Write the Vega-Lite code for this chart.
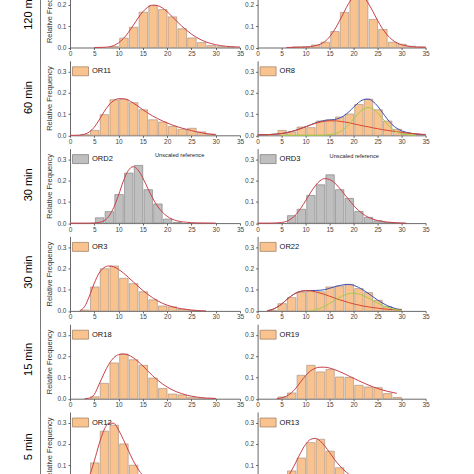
{
"$schema":"https://vega.github.io/schema/vega-lite/v6.json",
"padding":{"left":18,"top":-27,"right":0,"bottom":-20},
"config":{"font":"Liberation Sans","view":{"stroke":null},
"axis":{"domainColor":"#444","domainWidth":0.8,"tickColor":"#444","tickWidth":0.8,"tickSize":2,"labelFontSize":6.5,"labelColor":"#444","labelPadding":1,"labelOverlap":false,"labelFlush":false,"grid":false,"titleFontSize":7.5,"titleFontWeight":"normal","titleColor":"#333","titlePadding":3},
"axisY":{"labelPadding":2},
"legend":{"orient":"top-left","offset":2,"padding":0,"symbolType":"M-1,-0.56H1V0.56H-1Z","symbolSize":256,"labelFontSize":7.5,"labelColor":"#111","labelOffset":3,"symbolStrokeWidth":0.7,"symbolStrokeColor":"#9c7a5a"},
"bar":{"binSpacing":1.2}},
"datasets":{
"bars":[
{"p":"A120","lo":8,"hi":10,"f":0.005},{"p":"A120","lo":10,"hi":12,"f":0.044},{"p":"A120","lo":12,"hi":14,"f":0.095},{"p":"A120","lo":14,"hi":16,"f":0.166},{"p":"A120","lo":16,"hi":18,"f":0.197},{"p":"A120","lo":18,"hi":20,"f":0.178},{"p":"A120","lo":20,"hi":22,"f":0.144},{"p":"A120","lo":22,"hi":24,"f":0.088},{"p":"A120","lo":24,"hi":26,"f":0.045},{"p":"A120","lo":26,"hi":28,"f":0.023},{"p":"A120","lo":28,"hi":30,"f":0.009},{"p":"A120","lo":30,"hi":32,"f":0.004},{"p":"A120","lo":32,"hi":34,"f":0.002},
{"p":"B120","lo":7,"hi":9,"f":0.003},{"p":"B120","lo":9,"hi":11,"f":0.004},{"p":"B120","lo":11,"hi":13,"f":0.012},{"p":"B120","lo":13,"hi":15,"f":0.025},{"p":"B120","lo":15,"hi":17,"f":0.075},{"p":"B120","lo":17,"hi":19,"f":0.165},{"p":"B120","lo":19,"hi":21,"f":0.245},{"p":"B120","lo":21,"hi":23,"f":0.24},{"p":"B120","lo":23,"hi":25,"f":0.132},{"p":"B120","lo":25,"hi":27,"f":0.085},{"p":"B120","lo":27,"hi":29,"f":0.025},{"p":"B120","lo":29,"hi":31,"f":0.015},{"p":"B120","lo":31,"hi":33,"f":0.006},{"p":"B120","lo":33,"hi":35,"f":0.003},
{"p":"OR11","lo":2,"hi":4,"f":0.003},{"p":"OR11","lo":4,"hi":6,"f":0.023},{"p":"OR11","lo":6,"hi":8,"f":0.097},{"p":"OR11","lo":8,"hi":10,"f":0.167},{"p":"OR11","lo":10,"hi":12,"f":0.169},{"p":"OR11","lo":12,"hi":14,"f":0.153},{"p":"OR11","lo":14,"hi":16,"f":0.12},{"p":"OR11","lo":16,"hi":18,"f":0.073},{"p":"OR11","lo":18,"hi":20,"f":0.0625},{"p":"OR11","lo":20,"hi":22,"f":0.042},{"p":"OR11","lo":22,"hi":24,"f":0.028},{"p":"OR11","lo":24,"hi":26,"f":0.033},{"p":"OR11","lo":26,"hi":28,"f":0.016},{"p":"OR11","lo":28,"hi":30,"f":0.006},
{"p":"OR8","lo":0,"hi":2,"f":0.002},{"p":"OR8","lo":2,"hi":4,"f":0.003},{"p":"OR8","lo":4,"hi":6,"f":0.023},{"p":"OR8","lo":6,"hi":8,"f":0.016},{"p":"OR8","lo":8,"hi":10,"f":0.039},{"p":"OR8","lo":10,"hi":12,"f":0.036},{"p":"OR8","lo":12,"hi":14,"f":0.067},{"p":"OR8","lo":14,"hi":16,"f":0.073},{"p":"OR8","lo":16,"hi":18,"f":0.086},{"p":"OR8","lo":18,"hi":20,"f":0.1},{"p":"OR8","lo":20,"hi":22,"f":0.145},{"p":"OR8","lo":22,"hi":24,"f":0.17},{"p":"OR8","lo":24,"hi":26,"f":0.12},{"p":"OR8","lo":26,"hi":28,"f":0.067},{"p":"OR8","lo":28,"hi":30,"f":0.028},{"p":"OR8","lo":30,"hi":32,"f":0.011},{"p":"OR8","lo":32,"hi":34,"f":0.005},
{"p":"ORD2","lo":5,"hi":7,"f":0.025},{"p":"ORD2","lo":7,"hi":9,"f":0.054},{"p":"ORD2","lo":9,"hi":11,"f":0.134},{"p":"ORD2","lo":11,"hi":13,"f":0.235},{"p":"ORD2","lo":13,"hi":15,"f":0.271},{"p":"ORD2","lo":15,"hi":17,"f":0.157},{"p":"ORD2","lo":17,"hi":19,"f":0.09},{"p":"ORD2","lo":19,"hi":21,"f":0.019},{"p":"ORD2","lo":21,"hi":23,"f":0.003},
{"p":"ORD3","lo":6,"hi":8,"f":0.035},{"p":"ORD3","lo":8,"hi":10,"f":0.065},{"p":"ORD3","lo":10,"hi":12,"f":0.13},{"p":"ORD3","lo":12,"hi":14,"f":0.18},{"p":"ORD3","lo":14,"hi":16,"f":0.227},{"p":"ORD3","lo":16,"hi":18,"f":0.157},{"p":"ORD3","lo":18,"hi":20,"f":0.116},{"p":"ORD3","lo":20,"hi":22,"f":0.055},{"p":"ORD3","lo":22,"hi":24,"f":0.027},{"p":"ORD3","lo":24,"hi":26,"f":0.011},{"p":"ORD3","lo":26,"hi":28,"f":0.003},
{"p":"OR3","lo":2,"hi":4,"f":0.004},{"p":"OR3","lo":4,"hi":6,"f":0.1125},{"p":"OR3","lo":6,"hi":8,"f":0.198},{"p":"OR3","lo":8,"hi":10,"f":0.211},{"p":"OR3","lo":10,"hi":12,"f":0.153},{"p":"OR3","lo":12,"hi":14,"f":0.128},{"p":"OR3","lo":14,"hi":16,"f":0.09},{"p":"OR3","lo":16,"hi":18,"f":0.052},{"p":"OR3","lo":18,"hi":20,"f":0.023},{"p":"OR3","lo":20,"hi":22,"f":0.019},{"p":"OR3","lo":22,"hi":24,"f":0.008},{"p":"OR3","lo":24,"hi":26,"f":0.003},
{"p":"OR22","lo":2,"hi":4,"f":0.003},{"p":"OR22","lo":4,"hi":6,"f":0.034},{"p":"OR22","lo":6,"hi":8,"f":0.0625},{"p":"OR22","lo":8,"hi":10,"f":0.089},{"p":"OR22","lo":10,"hi":12,"f":0.094},{"p":"OR22","lo":12,"hi":14,"f":0.09},{"p":"OR22","lo":14,"hi":16,"f":0.1125},{"p":"OR22","lo":16,"hi":18,"f":0.117},{"p":"OR22","lo":18,"hi":20,"f":0.125},{"p":"OR22","lo":20,"hi":22,"f":0.105},{"p":"OR22","lo":22,"hi":24,"f":0.086},{"p":"OR22","lo":24,"hi":26,"f":0.05},{"p":"OR22","lo":26,"hi":28,"f":0.02},{"p":"OR22","lo":28,"hi":30,"f":0.008},
{"p":"OR18","lo":4,"hi":6,"f":0.009},{"p":"OR18","lo":6,"hi":8,"f":0.072},{"p":"OR18","lo":8,"hi":10,"f":0.168},{"p":"OR18","lo":10,"hi":12,"f":0.21},{"p":"OR18","lo":12,"hi":14,"f":0.183},{"p":"OR18","lo":14,"hi":16,"f":0.157},{"p":"OR18","lo":16,"hi":18,"f":0.097},{"p":"OR18","lo":18,"hi":20,"f":0.048},{"p":"OR18","lo":20,"hi":22,"f":0.022},{"p":"OR18","lo":22,"hi":24,"f":0.018},{"p":"OR18","lo":24,"hi":26,"f":0.007},{"p":"OR18","lo":26,"hi":28,"f":0.003},{"p":"OR18","lo":28,"hi":30,"f":0.002},
{"p":"OR19","lo":4,"hi":6,"f":0.008},{"p":"OR19","lo":6,"hi":8,"f":0.027},{"p":"OR19","lo":8,"hi":10,"f":0.11},{"p":"OR19","lo":10,"hi":12,"f":0.157},{"p":"OR19","lo":12,"hi":14,"f":0.126},{"p":"OR19","lo":14,"hi":16,"f":0.137},{"p":"OR19","lo":16,"hi":18,"f":0.102},{"p":"OR19","lo":18,"hi":20,"f":0.1},{"p":"OR19","lo":20,"hi":22,"f":0.063},{"p":"OR19","lo":22,"hi":24,"f":0.055},{"p":"OR19","lo":24,"hi":26,"f":0.052},{"p":"OR19","lo":26,"hi":28,"f":0.024},{"p":"OR19","lo":28,"hi":30,"f":0.006},
{"p":"OR12","lo":2,"hi":4,"f":0.01},{"p":"OR12","lo":4,"hi":6,"f":0.111},{"p":"OR12","lo":6,"hi":8,"f":0.26},{"p":"OR12","lo":8,"hi":10,"f":0.288},{"p":"OR12","lo":10,"hi":12,"f":0.2},{"p":"OR12","lo":12,"hi":14,"f":0.1},{"p":"OR12","lo":14,"hi":16,"f":0.035},{"p":"OR12","lo":16,"hi":18,"f":0.01},{"p":"OR12","lo":18,"hi":20,"f":0.003},
{"p":"OR13","lo":4,"hi":6,"f":0.02},{"p":"OR13","lo":6,"hi":8,"f":0.073},{"p":"OR13","lo":8,"hi":10,"f":0.134},{"p":"OR13","lo":10,"hi":12,"f":0.206},{"p":"OR13","lo":12,"hi":14,"f":0.222},{"p":"OR13","lo":14,"hi":16,"f":0.166},{"p":"OR13","lo":16,"hi":18,"f":0.088},{"p":"OR13","lo":18,"hi":20,"f":0.045},{"p":"OR13","lo":20,"hi":22,"f":0.018},{"p":"OR13","lo":22,"hi":24,"f":0.006}
],
"fits":[
{"p":"A120","c":"fit","x":5,"y":0},{"p":"A120","c":"fit","x":7,"y":0.001},{"p":"A120","c":"fit","x":8,"y":0.003},{"p":"A120","c":"fit","x":9,"y":0.009},{"p":"A120","c":"fit","x":10,"y":0.022},{"p":"A120","c":"fit","x":11,"y":0.042},{"p":"A120","c":"fit","x":12,"y":0.07},{"p":"A120","c":"fit","x":13,"y":0.103},{"p":"A120","c":"fit","x":14,"y":0.138},{"p":"A120","c":"fit","x":15,"y":0.168},{"p":"A120","c":"fit","x":16,"y":0.189},{"p":"A120","c":"fit","x":17,"y":0.199},{"p":"A120","c":"fit","x":18,"y":0.197},{"p":"A120","c":"fit","x":19,"y":0.186},{"p":"A120","c":"fit","x":20,"y":0.168},{"p":"A120","c":"fit","x":21,"y":0.146},{"p":"A120","c":"fit","x":22,"y":0.123},{"p":"A120","c":"fit","x":23,"y":0.101},{"p":"A120","c":"fit","x":24,"y":0.081},{"p":"A120","c":"fit","x":25,"y":0.063},{"p":"A120","c":"fit","x":26,"y":0.048},{"p":"A120","c":"fit","x":27,"y":0.036},{"p":"A120","c":"fit","x":28,"y":0.026},{"p":"A120","c":"fit","x":29,"y":0.019},{"p":"A120","c":"fit","x":30,"y":0.013},{"p":"A120","c":"fit","x":31,"y":0.009},{"p":"A120","c":"fit","x":32,"y":0.006},{"p":"A120","c":"fit","x":33,"y":0.004},{"p":"A120","c":"fit","x":34,"y":0.003},{"p":"A120","c":"fit","x":35,"y":0.002},
{"p":"B120","c":"fit","x":6,"y":0},{"p":"B120","c":"fit","x":8,"y":0.001},{"p":"B120","c":"fit","x":10,"y":0.002},{"p":"B120","c":"fit","x":11,"y":0.004},{"p":"B120","c":"fit","x":12,"y":0.008},{"p":"B120","c":"fit","x":13,"y":0.015},{"p":"B120","c":"fit","x":14,"y":0.028},{"p":"B120","c":"fit","x":15,"y":0.05},{"p":"B120","c":"fit","x":16,"y":0.082},{"p":"B120","c":"fit","x":17,"y":0.122},{"p":"B120","c":"fit","x":18,"y":0.166},{"p":"B120","c":"fit","x":19,"y":0.208},{"p":"B120","c":"fit","x":20,"y":0.238},{"p":"B120","c":"fit","x":21,"y":0.25},{"p":"B120","c":"fit","x":22,"y":0.24},{"p":"B120","c":"fit","x":23,"y":0.21},{"p":"B120","c":"fit","x":24,"y":0.17},{"p":"B120","c":"fit","x":25,"y":0.127},{"p":"B120","c":"fit","x":26,"y":0.089},{"p":"B120","c":"fit","x":27,"y":0.059},{"p":"B120","c":"fit","x":28,"y":0.037},{"p":"B120","c":"fit","x":29,"y":0.022},{"p":"B120","c":"fit","x":30,"y":0.013},{"p":"B120","c":"fit","x":31,"y":0.008},{"p":"B120","c":"fit","x":32,"y":0.004},{"p":"B120","c":"fit","x":33,"y":0.002},{"p":"B120","c":"fit","x":35,"y":0.001},
{"p":"OR11","c":"fit","x":0,"y":0},{"p":"OR11","c":"fit","x":1,"y":0},{"p":"OR11","c":"fit","x":2,"y":0.001},{"p":"OR11","c":"fit","x":3,"y":0.005},{"p":"OR11","c":"fit","x":4,"y":0.016},{"p":"OR11","c":"fit","x":5,"y":0.038},{"p":"OR11","c":"fit","x":6,"y":0.072},{"p":"OR11","c":"fit","x":7,"y":0.11},{"p":"OR11","c":"fit","x":8,"y":0.142},{"p":"OR11","c":"fit","x":9,"y":0.163},{"p":"OR11","c":"fit","x":10,"y":0.172},{"p":"OR11","c":"fit","x":11,"y":0.172},{"p":"OR11","c":"fit","x":12,"y":0.165},{"p":"OR11","c":"fit","x":13,"y":0.152},{"p":"OR11","c":"fit","x":14,"y":0.137},{"p":"OR11","c":"fit","x":15,"y":0.12},{"p":"OR11","c":"fit","x":16,"y":0.105},{"p":"OR11","c":"fit","x":17,"y":0.091},{"p":"OR11","c":"fit","x":18,"y":0.079},{"p":"OR11","c":"fit","x":19,"y":0.068},{"p":"OR11","c":"fit","x":20,"y":0.058},{"p":"OR11","c":"fit","x":21,"y":0.049},{"p":"OR11","c":"fit","x":22,"y":0.041},{"p":"OR11","c":"fit","x":23,"y":0.034},{"p":"OR11","c":"fit","x":24,"y":0.028},{"p":"OR11","c":"fit","x":25,"y":0.022},{"p":"OR11","c":"fit","x":26,"y":0.017},{"p":"OR11","c":"fit","x":27,"y":0.012},{"p":"OR11","c":"fit","x":28,"y":0.008},{"p":"OR11","c":"fit","x":29,"y":0.005},{"p":"OR11","c":"fit","x":30,"y":0.002},
{"p":"OR8","c":"sum","x":0,"y":0.002},{"p":"OR8","c":"sum","x":2,"y":0.003},{"p":"OR8","c":"sum","x":4,"y":0.006},{"p":"OR8","c":"sum","x":6,"y":0.012},{"p":"OR8","c":"sum","x":8,"y":0.024},{"p":"OR8","c":"sum","x":10,"y":0.04},{"p":"OR8","c":"sum","x":11,"y":0.049},{"p":"OR8","c":"sum","x":12,"y":0.058},{"p":"OR8","c":"sum","x":13,"y":0.065},{"p":"OR8","c":"sum","x":14,"y":0.07},{"p":"OR8","c":"sum","x":15,"y":0.072},{"p":"OR8","c":"sum","x":16,"y":0.074},{"p":"OR8","c":"sum","x":17,"y":0.08},{"p":"OR8","c":"sum","x":18,"y":0.092},{"p":"OR8","c":"sum","x":19,"y":0.11},{"p":"OR8","c":"sum","x":20,"y":0.132},{"p":"OR8","c":"sum","x":21,"y":0.153},{"p":"OR8","c":"sum","x":22,"y":0.167},{"p":"OR8","c":"sum","x":23,"y":0.17},{"p":"OR8","c":"sum","x":24,"y":0.16},{"p":"OR8","c":"sum","x":25,"y":0.137},{"p":"OR8","c":"sum","x":26,"y":0.107},{"p":"OR8","c":"sum","x":27,"y":0.077},{"p":"OR8","c":"sum","x":28,"y":0.051},{"p":"OR8","c":"sum","x":29,"y":0.033},{"p":"OR8","c":"sum","x":30,"y":0.021},{"p":"OR8","c":"sum","x":31,"y":0.014},{"p":"OR8","c":"sum","x":32,"y":0.009},{"p":"OR8","c":"sum","x":33,"y":0.006},{"p":"OR8","c":"sum","x":34,"y":0.004},{"p":"OR8","c":"sum","x":35,"y":0.003},
{"p":"OR8","c":"c1","x":0,"y":0.002},{"p":"OR8","c":"c1","x":2,"y":0.003},{"p":"OR8","c":"c1","x":4,"y":0.006},{"p":"OR8","c":"c1","x":6,"y":0.012},{"p":"OR8","c":"c1","x":8,"y":0.024},{"p":"OR8","c":"c1","x":10,"y":0.04},{"p":"OR8","c":"c1","x":11,"y":0.048},{"p":"OR8","c":"c1","x":12,"y":0.056},{"p":"OR8","c":"c1","x":13,"y":0.062},{"p":"OR8","c":"c1","x":14,"y":0.066},{"p":"OR8","c":"c1","x":15,"y":0.068},{"p":"OR8","c":"c1","x":16,"y":0.068},{"p":"OR8","c":"c1","x":17,"y":0.066},{"p":"OR8","c":"c1","x":18,"y":0.063},{"p":"OR8","c":"c1","x":19,"y":0.059},{"p":"OR8","c":"c1","x":20,"y":0.054},{"p":"OR8","c":"c1","x":21,"y":0.049},{"p":"OR8","c":"c1","x":22,"y":0.044},{"p":"OR8","c":"c1","x":23,"y":0.04},{"p":"OR8","c":"c1","x":24,"y":0.035},{"p":"OR8","c":"c1","x":25,"y":0.031},{"p":"OR8","c":"c1","x":26,"y":0.027},{"p":"OR8","c":"c1","x":27,"y":0.023},{"p":"OR8","c":"c1","x":28,"y":0.02},{"p":"OR8","c":"c1","x":29,"y":0.017},{"p":"OR8","c":"c1","x":30,"y":0.014},{"p":"OR8","c":"c1","x":31,"y":0.011},{"p":"OR8","c":"c1","x":32,"y":0.009},{"p":"OR8","c":"c1","x":33,"y":0.007},{"p":"OR8","c":"c1","x":34,"y":0.005},{"p":"OR8","c":"c1","x":35,"y":0.004},
{"p":"OR8","c":"c2","x":5,"y":0},{"p":"OR8","c":"c2","x":10,"y":0},{"p":"OR8","c":"c2","x":13,"y":0},{"p":"OR8","c":"c2","x":14,"y":0.001},{"p":"OR8","c":"c2","x":15,"y":0.003},{"p":"OR8","c":"c2","x":16,"y":0.007},{"p":"OR8","c":"c2","x":17,"y":0.015},{"p":"OR8","c":"c2","x":18,"y":0.029},{"p":"OR8","c":"c2","x":19,"y":0.05},{"p":"OR8","c":"c2","x":20,"y":0.077},{"p":"OR8","c":"c2","x":21,"y":0.103},{"p":"OR8","c":"c2","x":22,"y":0.123},{"p":"OR8","c":"c2","x":23,"y":0.13},{"p":"OR8","c":"c2","x":24,"y":0.125},{"p":"OR8","c":"c2","x":25,"y":0.106},{"p":"OR8","c":"c2","x":26,"y":0.08},{"p":"OR8","c":"c2","x":27,"y":0.054},{"p":"OR8","c":"c2","x":28,"y":0.031},{"p":"OR8","c":"c2","x":29,"y":0.016},{"p":"OR8","c":"c2","x":30,"y":0.007},{"p":"OR8","c":"c2","x":31,"y":0.003},{"p":"OR8","c":"c2","x":32,"y":0.001},{"p":"OR8","c":"c2","x":33,"y":0},
{"p":"ORD2","c":"fit","x":0,"y":0},{"p":"ORD2","c":"fit","x":4,"y":0},{"p":"ORD2","c":"fit","x":5,"y":0.001},{"p":"ORD2","c":"fit","x":6,"y":0.003},{"p":"ORD2","c":"fit","x":7,"y":0.011},{"p":"ORD2","c":"fit","x":8,"y":0.032},{"p":"ORD2","c":"fit","x":9,"y":0.073},{"p":"ORD2","c":"fit","x":10,"y":0.132},{"p":"ORD2","c":"fit","x":11,"y":0.198},{"p":"ORD2","c":"fit","x":12,"y":0.247},{"p":"ORD2","c":"fit","x":13,"y":0.265},{"p":"ORD2","c":"fit","x":14,"y":0.25},{"p":"ORD2","c":"fit","x":15,"y":0.212},{"p":"ORD2","c":"fit","x":16,"y":0.164},{"p":"ORD2","c":"fit","x":17,"y":0.118},{"p":"ORD2","c":"fit","x":18,"y":0.08},{"p":"ORD2","c":"fit","x":19,"y":0.052},{"p":"ORD2","c":"fit","x":20,"y":0.032},{"p":"ORD2","c":"fit","x":21,"y":0.019},{"p":"ORD2","c":"fit","x":22,"y":0.011},{"p":"ORD2","c":"fit","x":23,"y":0.006},{"p":"ORD2","c":"fit","x":24,"y":0.004},{"p":"ORD2","c":"fit","x":25,"y":0.002},{"p":"ORD2","c":"fit","x":26,"y":0.001},{"p":"ORD2","c":"fit","x":30,"y":0},
{"p":"ORD3","c":"fit","x":0,"y":0},{"p":"ORD3","c":"fit","x":3,"y":0},{"p":"ORD3","c":"fit","x":4,"y":0.001},{"p":"ORD3","c":"fit","x":5,"y":0.003},{"p":"ORD3","c":"fit","x":6,"y":0.008},{"p":"ORD3","c":"fit","x":7,"y":0.02},{"p":"ORD3","c":"fit","x":8,"y":0.04},{"p":"ORD3","c":"fit","x":9,"y":0.07},{"p":"ORD3","c":"fit","x":10,"y":0.105},{"p":"ORD3","c":"fit","x":11,"y":0.142},{"p":"ORD3","c":"fit","x":12,"y":0.175},{"p":"ORD3","c":"fit","x":13,"y":0.199},{"p":"ORD3","c":"fit","x":14,"y":0.209},{"p":"ORD3","c":"fit","x":15,"y":0.205},{"p":"ORD3","c":"fit","x":16,"y":0.19},{"p":"ORD3","c":"fit","x":17,"y":0.166},{"p":"ORD3","c":"fit","x":18,"y":0.138},{"p":"ORD3","c":"fit","x":19,"y":0.11},{"p":"ORD3","c":"fit","x":20,"y":0.083},{"p":"ORD3","c":"fit","x":21,"y":0.06},{"p":"ORD3","c":"fit","x":22,"y":0.042},{"p":"ORD3","c":"fit","x":23,"y":0.028},{"p":"ORD3","c":"fit","x":24,"y":0.019},{"p":"ORD3","c":"fit","x":25,"y":0.012},{"p":"ORD3","c":"fit","x":26,"y":0.008},{"p":"ORD3","c":"fit","x":27,"y":0.005},{"p":"ORD3","c":"fit","x":28,"y":0.003},{"p":"ORD3","c":"fit","x":29,"y":0.002},{"p":"ORD3","c":"fit","x":30,"y":0.001},{"p":"ORD3","c":"fit","x":31,"y":0},
{"p":"OR3","c":"fit","x":2,"y":0.001},{"p":"OR3","c":"fit","x":3,"y":0.02},{"p":"OR3","c":"fit","x":4,"y":0.07},{"p":"OR3","c":"fit","x":5,"y":0.13},{"p":"OR3","c":"fit","x":6,"y":0.178},{"p":"OR3","c":"fit","x":7,"y":0.203},{"p":"OR3","c":"fit","x":8,"y":0.211},{"p":"OR3","c":"fit","x":9,"y":0.207},{"p":"OR3","c":"fit","x":10,"y":0.195},{"p":"OR3","c":"fit","x":11,"y":0.178},{"p":"OR3","c":"fit","x":12,"y":0.158},{"p":"OR3","c":"fit","x":13,"y":0.137},{"p":"OR3","c":"fit","x":14,"y":0.116},{"p":"OR3","c":"fit","x":15,"y":0.096},{"p":"OR3","c":"fit","x":16,"y":0.078},{"p":"OR3","c":"fit","x":17,"y":0.062},{"p":"OR3","c":"fit","x":18,"y":0.048},{"p":"OR3","c":"fit","x":19,"y":0.036},{"p":"OR3","c":"fit","x":20,"y":0.027},{"p":"OR3","c":"fit","x":21,"y":0.02},{"p":"OR3","c":"fit","x":22,"y":0.014},{"p":"OR3","c":"fit","x":23,"y":0.01},{"p":"OR3","c":"fit","x":24,"y":0.007},{"p":"OR3","c":"fit","x":25,"y":0.004},{"p":"OR3","c":"fit","x":26,"y":0.002},{"p":"OR3","c":"fit","x":27,"y":0.001},{"p":"OR3","c":"fit","x":28,"y":0},
{"p":"OR22","c":"sum","x":2,"y":0.001},{"p":"OR22","c":"sum","x":3,"y":0.006},{"p":"OR22","c":"sum","x":4,"y":0.017},{"p":"OR22","c":"sum","x":5,"y":0.032},{"p":"OR22","c":"sum","x":6,"y":0.052},{"p":"OR22","c":"sum","x":7,"y":0.07},{"p":"OR22","c":"sum","x":8,"y":0.084},{"p":"OR22","c":"sum","x":9,"y":0.092},{"p":"OR22","c":"sum","x":10,"y":0.095},{"p":"OR22","c":"sum","x":11,"y":0.096},{"p":"OR22","c":"sum","x":12,"y":0.096},{"p":"OR22","c":"sum","x":13,"y":0.097},{"p":"OR22","c":"sum","x":14,"y":0.1},{"p":"OR22","c":"sum","x":15,"y":0.106},{"p":"OR22","c":"sum","x":16,"y":0.113},{"p":"OR22","c":"sum","x":17,"y":0.119},{"p":"OR22","c":"sum","x":18,"y":0.123},{"p":"OR22","c":"sum","x":19,"y":0.124},{"p":"OR22","c":"sum","x":20,"y":0.12},{"p":"OR22","c":"sum","x":21,"y":0.111},{"p":"OR22","c":"sum","x":22,"y":0.098},{"p":"OR22","c":"sum","x":23,"y":0.083},{"p":"OR22","c":"sum","x":24,"y":0.067},{"p":"OR22","c":"sum","x":25,"y":0.051},{"p":"OR22","c":"sum","x":26,"y":0.037},{"p":"OR22","c":"sum","x":27,"y":0.025},{"p":"OR22","c":"sum","x":28,"y":0.016},{"p":"OR22","c":"sum","x":29,"y":0.009},{"p":"OR22","c":"sum","x":30,"y":0.005},
{"p":"OR22","c":"c1","x":2,"y":0.001},{"p":"OR22","c":"c1","x":3,"y":0.006},{"p":"OR22","c":"c1","x":4,"y":0.017},{"p":"OR22","c":"c1","x":5,"y":0.032},{"p":"OR22","c":"c1","x":6,"y":0.052},{"p":"OR22","c":"c1","x":7,"y":0.07},{"p":"OR22","c":"c1","x":8,"y":0.084},{"p":"OR22","c":"c1","x":9,"y":0.092},{"p":"OR22","c":"c1","x":10,"y":0.095},{"p":"OR22","c":"c1","x":11,"y":0.094},{"p":"OR22","c":"c1","x":12,"y":0.09},{"p":"OR22","c":"c1","x":13,"y":0.084},{"p":"OR22","c":"c1","x":14,"y":0.077},{"p":"OR22","c":"c1","x":15,"y":0.069},{"p":"OR22","c":"c1","x":16,"y":0.061},{"p":"OR22","c":"c1","x":17,"y":0.053},{"p":"OR22","c":"c1","x":18,"y":0.046},{"p":"OR22","c":"c1","x":19,"y":0.039},{"p":"OR22","c":"c1","x":20,"y":0.033},{"p":"OR22","c":"c1","x":21,"y":0.028},{"p":"OR22","c":"c1","x":22,"y":0.023},{"p":"OR22","c":"c1","x":23,"y":0.019},{"p":"OR22","c":"c1","x":24,"y":0.016},{"p":"OR22","c":"c1","x":25,"y":0.013},{"p":"OR22","c":"c1","x":26,"y":0.01},{"p":"OR22","c":"c1","x":27,"y":0.008},{"p":"OR22","c":"c1","x":28,"y":0.006},{"p":"OR22","c":"c1","x":29,"y":0.005},{"p":"OR22","c":"c1","x":30,"y":0.004},
{"p":"OR22","c":"c2","x":11,"y":0.001},{"p":"OR22","c":"c2","x":12,"y":0.005},{"p":"OR22","c":"c2","x":13,"y":0.012},{"p":"OR22","c":"c2","x":14,"y":0.022},{"p":"OR22","c":"c2","x":15,"y":0.035},{"p":"OR22","c":"c2","x":16,"y":0.049},{"p":"OR22","c":"c2","x":17,"y":0.063},{"p":"OR22","c":"c2","x":18,"y":0.074},{"p":"OR22","c":"c2","x":19,"y":0.081},{"p":"OR22","c":"c2","x":20,"y":0.083},{"p":"OR22","c":"c2","x":21,"y":0.08},{"p":"OR22","c":"c2","x":22,"y":0.072},{"p":"OR22","c":"c2","x":23,"y":0.061},{"p":"OR22","c":"c2","x":24,"y":0.049},{"p":"OR22","c":"c2","x":25,"y":0.037},{"p":"OR22","c":"c2","x":26,"y":0.026},{"p":"OR22","c":"c2","x":27,"y":0.017},{"p":"OR22","c":"c2","x":28,"y":0.01},{"p":"OR22","c":"c2","x":29,"y":0.005},{"p":"OR22","c":"c2","x":30,"y":0.002},
{"p":"OR18","c":"fit","x":3,"y":0},{"p":"OR18","c":"fit","x":4,"y":0.003},{"p":"OR18","c":"fit","x":5,"y":0.02},{"p":"OR18","c":"fit","x":6,"y":0.068},{"p":"OR18","c":"fit","x":7,"y":0.118},{"p":"OR18","c":"fit","x":8,"y":0.162},{"p":"OR18","c":"fit","x":9,"y":0.192},{"p":"OR18","c":"fit","x":10,"y":0.207},{"p":"OR18","c":"fit","x":11,"y":0.21},{"p":"OR18","c":"fit","x":12,"y":0.205},{"p":"OR18","c":"fit","x":13,"y":0.193},{"p":"OR18","c":"fit","x":14,"y":0.175},{"p":"OR18","c":"fit","x":15,"y":0.154},{"p":"OR18","c":"fit","x":16,"y":0.131},{"p":"OR18","c":"fit","x":17,"y":0.108},{"p":"OR18","c":"fit","x":18,"y":0.088},{"p":"OR18","c":"fit","x":19,"y":0.07},{"p":"OR18","c":"fit","x":20,"y":0.055},{"p":"OR18","c":"fit","x":21,"y":0.042},{"p":"OR18","c":"fit","x":22,"y":0.032},{"p":"OR18","c":"fit","x":23,"y":0.024},{"p":"OR18","c":"fit","x":24,"y":0.017},{"p":"OR18","c":"fit","x":25,"y":0.012},{"p":"OR18","c":"fit","x":26,"y":0.008},{"p":"OR18","c":"fit","x":27,"y":0.005},{"p":"OR18","c":"fit","x":28,"y":0.003},{"p":"OR18","c":"fit","x":29,"y":0.002},{"p":"OR18","c":"fit","x":30,"y":0.001},
{"p":"OR19","c":"fit","x":4,"y":0},{"p":"OR19","c":"fit","x":5,"y":0.004},{"p":"OR19","c":"fit","x":6,"y":0.012},{"p":"OR19","c":"fit","x":7,"y":0.027},{"p":"OR19","c":"fit","x":8,"y":0.05},{"p":"OR19","c":"fit","x":9,"y":0.08},{"p":"OR19","c":"fit","x":10,"y":0.108},{"p":"OR19","c":"fit","x":11,"y":0.13},{"p":"OR19","c":"fit","x":12,"y":0.143},{"p":"OR19","c":"fit","x":13,"y":0.148},{"p":"OR19","c":"fit","x":14,"y":0.148},{"p":"OR19","c":"fit","x":15,"y":0.144},{"p":"OR19","c":"fit","x":16,"y":0.137},{"p":"OR19","c":"fit","x":17,"y":0.128},{"p":"OR19","c":"fit","x":18,"y":0.118},{"p":"OR19","c":"fit","x":19,"y":0.107},{"p":"OR19","c":"fit","x":20,"y":0.096},{"p":"OR19","c":"fit","x":21,"y":0.085},{"p":"OR19","c":"fit","x":22,"y":0.075},{"p":"OR19","c":"fit","x":23,"y":0.065},{"p":"OR19","c":"fit","x":24,"y":0.056},{"p":"OR19","c":"fit","x":25,"y":0.048},{"p":"OR19","c":"fit","x":26,"y":0.041},{"p":"OR19","c":"fit","x":27,"y":0.035},{"p":"OR19","c":"fit","x":28,"y":0.03},{"p":"OR19","c":"fit","x":29,"y":0.025},
{"p":"OR12","c":"fit","x":3,"y":0.01},{"p":"OR12","c":"fit","x":4,"y":0.05},{"p":"OR12","c":"fit","x":5,"y":0.12},{"p":"OR12","c":"fit","x":6,"y":0.2},{"p":"OR12","c":"fit","x":7,"y":0.265},{"p":"OR12","c":"fit","x":8,"y":0.298},{"p":"OR12","c":"fit","x":9,"y":0.297},{"p":"OR12","c":"fit","x":10,"y":0.265},{"p":"OR12","c":"fit","x":11,"y":0.22},{"p":"OR12","c":"fit","x":12,"y":0.17},{"p":"OR12","c":"fit","x":13,"y":0.122},{"p":"OR12","c":"fit","x":14,"y":0.082},{"p":"OR12","c":"fit","x":15,"y":0.052},{"p":"OR12","c":"fit","x":16,"y":0.031},{"p":"OR12","c":"fit","x":17,"y":0.017},{"p":"OR12","c":"fit","x":18,"y":0.009},{"p":"OR12","c":"fit","x":19,"y":0.004},{"p":"OR12","c":"fit","x":20,"y":0.002},
{"p":"OR13","c":"fit","x":4,"y":0.005},{"p":"OR13","c":"fit","x":5,"y":0.015},{"p":"OR13","c":"fit","x":6,"y":0.038},{"p":"OR13","c":"fit","x":7,"y":0.072},{"p":"OR13","c":"fit","x":8,"y":0.115},{"p":"OR13","c":"fit","x":9,"y":0.16},{"p":"OR13","c":"fit","x":10,"y":0.198},{"p":"OR13","c":"fit","x":11,"y":0.221},{"p":"OR13","c":"fit","x":12,"y":0.226},{"p":"OR13","c":"fit","x":13,"y":0.215},{"p":"OR13","c":"fit","x":14,"y":0.19},{"p":"OR13","c":"fit","x":15,"y":0.16},{"p":"OR13","c":"fit","x":16,"y":0.128},{"p":"OR13","c":"fit","x":17,"y":0.1},{"p":"OR13","c":"fit","x":18,"y":0.077},{"p":"OR13","c":"fit","x":19,"y":0.058},{"p":"OR13","c":"fit","x":20,"y":0.042},{"p":"OR13","c":"fit","x":21,"y":0.03},{"p":"OR13","c":"fit","x":22,"y":0.02},{"p":"OR13","c":"fit","x":23,"y":0.013},{"p":"OR13","c":"fit","x":24,"y":0.008},{"p":"OR13","c":"fit","x":25,"y":0.005},{"p":"OR13","c":"fit","x":26,"y":0.003}
]},
"spacing":5,
"resolve":{"scale":{"color":"independent","stroke":"independent"},"legend":{"color":"independent","stroke":"independent"}},
"hconcat":[
{"width":22,"height":511,
"data":{"values":[{"row":"r1","t":"120 min"},{"row":"r2","t":"60 min"},{"row":"r3","t":"30 min"},{"row":"r4","t":"30 min"},{"row":"r5","t":"15 min"},{"row":"r6","t":"5 min"}]},
"mark":{"type":"text","angle":270,"fontSize":11,"align":"center","baseline":"middle","color":"#000"},
"encoding":{"y":{"field":"row","type":"nominal","scale":{"type":"point","padding":0.4267},"axis":{"orient":"right","labels":false,"ticks":false,"title":null,"domain":true,"domainColor":"#555","domainWidth":0.8}},"text":{"field":"t"}}},
{"columns":2,"spacing":{"row":12.8,"column":17.6},"bounds":"flush",
"resolve":{"scale":{"color":"independent","stroke":"independent"},"legend":{"color":"independent","stroke":"independent"}},
"concat":[
{"width":170,"height":74.5,"layer":[
{"data":{"name":"bars"},"transform":[{"filter":"datum.p==='A120'"}],"mark":{"type":"bar","stroke":"#a08c7c","strokeWidth":0.6,"color":"#f9c390"},
"encoding":{"x":{"field":"lo","type":"quantitative","bin":{"binned":true},"title":null,"scale":{"domain":[0,35],"nice":false,"zero":false},"axis":{"values":[0,5,10,15,20,25,30,35],"labelOverlap":false,"tickCount":8}},"x2":{"field":"hi"},"y":{"field":"f","type":"quantitative","title":"Relative Frequency","scale":{"domain":[0,0.35],"nice":false},"axis":{"values":[0,0.1,0.2,0.3],"format":".1f","labelOverlap":false,"tickCount":4}}}},
{"data":{"name":"fits"},"transform":[{"filter":"datum.p==='A120'"}],"mark":{"type":"line","interpolate":"monotone","strokeWidth":1},
"encoding":{"x":{"field":"x","type":"quantitative","title":null,"axis":{"values":[0,5,10,15,20,25,30,35],"labelOverlap":false}},"y":{"field":"y","type":"quantitative","title":"Relative Frequency","axis":{"values":[0,0.1,0.2,0.3],"format":".1f","labelOverlap":false}},"stroke":{"field":"c","type":"nominal","scale":{"domain":["fit","sum","c1","c2"],"range":["#c9404a","#3d4db7","#d8482e","#a3cd45"]},"legend":null}}}]},
{"width":168,"height":74.5,"layer":[
{"data":{"name":"bars"},"transform":[{"filter":"datum.p==='B120'"}],"mark":{"type":"bar","stroke":"#a08c7c","strokeWidth":0.6,"color":"#f9c390"},
"encoding":{"x":{"field":"lo","type":"quantitative","bin":{"binned":true},"title":null,"scale":{"domain":[0,35],"nice":false,"zero":false},"axis":{"values":[0,5,10,15,20,25,30,35],"labelOverlap":false,"tickCount":8}},"x2":{"field":"hi"},"y":{"field":"f","type":"quantitative","title":null,"scale":{"domain":[0,0.35],"nice":false},"axis":{"values":[0,0.1,0.2,0.3],"format":".1f","labelOverlap":false,"tickCount":4}}}},
{"data":{"name":"fits"},"transform":[{"filter":"datum.p==='B120'"}],"mark":{"type":"line","interpolate":"monotone","strokeWidth":1},
"encoding":{"x":{"field":"x","type":"quantitative","title":null,"axis":{"values":[0,5,10,15,20,25,30,35],"labelOverlap":false}},"y":{"field":"y","type":"quantitative","title":null,"axis":{"values":[0,0.1,0.2,0.3],"format":".1f","labelOverlap":false}},"stroke":{"field":"c","type":"nominal","scale":{"domain":["fit","sum","c1","c2"],"range":["#c9404a","#3d4db7","#d8482e","#a3cd45"]},"legend":null}}}]},
{"width":170,"height":74.5,"layer":[
{"data":{"name":"bars"},"transform":[{"filter":"datum.p==='OR11'"}],"mark":{"type":"bar","stroke":"#a08c7c","strokeWidth":0.6},
"encoding":{"x":{"field":"lo","type":"quantitative","bin":{"binned":true},"title":null,"scale":{"domain":[0,35],"nice":false,"zero":false},"axis":{"values":[0,5,10,15,20,25,30,35],"labelOverlap":false,"tickCount":8}},"x2":{"field":"hi"},"y":{"field":"f","type":"quantitative","title":"Relative Frequency","scale":{"domain":[0,0.35],"nice":false},"axis":{"values":[0,0.1,0.2,0.3],"format":".1f","labelOverlap":false,"tickCount":4}},"color":{"field":"p","type":"nominal","scale":{"range":["#f9c390"]},"legend":{"title":null}}}},
{"data":{"name":"fits"},"transform":[{"filter":"datum.p==='OR11'"}],"mark":{"type":"line","interpolate":"monotone","strokeWidth":1},
"encoding":{"x":{"field":"x","type":"quantitative","title":null,"axis":{"values":[0,5,10,15,20,25,30,35],"labelOverlap":false}},"y":{"field":"y","type":"quantitative","title":"Relative Frequency","axis":{"values":[0,0.1,0.2,0.3],"format":".1f","labelOverlap":false}},"stroke":{"field":"c","type":"nominal","scale":{"domain":["fit","sum","c1","c2"],"range":["#c9404a","#3d4db7","#d8482e","#a3cd45"]},"legend":null}}}]},
{"width":168,"height":74.5,"layer":[
{"data":{"name":"bars"},"transform":[{"filter":"datum.p==='OR8'"}],"mark":{"type":"bar","stroke":"#a08c7c","strokeWidth":0.6},
"encoding":{"x":{"field":"lo","type":"quantitative","bin":{"binned":true},"title":null,"scale":{"domain":[0,35],"nice":false,"zero":false},"axis":{"values":[0,5,10,15,20,25,30,35],"labelOverlap":false,"tickCount":8}},"x2":{"field":"hi"},"y":{"field":"f","type":"quantitative","title":null,"scale":{"domain":[0,0.35],"nice":false},"axis":{"values":[0,0.1,0.2,0.3],"format":".1f","labelOverlap":false,"tickCount":4}},"color":{"field":"p","type":"nominal","scale":{"range":["#f9c390"]},"legend":{"title":null}}}},
{"data":{"name":"fits"},"transform":[{"filter":"datum.p==='OR8'"}],"mark":{"type":"line","interpolate":"monotone","strokeWidth":1},
"encoding":{"x":{"field":"x","type":"quantitative","title":null,"axis":{"values":[0,5,10,15,20,25,30,35],"labelOverlap":false}},"y":{"field":"y","type":"quantitative","title":null,"axis":{"values":[0,0.1,0.2,0.3],"format":".1f","labelOverlap":false}},"stroke":{"field":"c","type":"nominal","scale":{"domain":["fit","sum","c1","c2"],"range":["#c9404a","#3d4db7","#d8482e","#a3cd45"]},"legend":null}}}]},
{"width":170,"height":74.5,"layer":[
{"data":{"name":"bars"},"transform":[{"filter":"datum.p==='ORD2'"}],"mark":{"type":"bar","stroke":"#7a7a7a","strokeWidth":0.6},
"encoding":{"x":{"field":"lo","type":"quantitative","bin":{"binned":true},"title":null,"scale":{"domain":[0,35],"nice":false,"zero":false},"axis":{"values":[0,5,10,15,20,25,30,35],"labelOverlap":false,"tickCount":8}},"x2":{"field":"hi"},"y":{"field":"f","type":"quantitative","title":"Relative Frequency","scale":{"domain":[0,0.35],"nice":false},"axis":{"values":[0,0.1,0.2,0.3],"format":".1f","labelOverlap":false,"tickCount":4}},"color":{"field":"p","type":"nominal","scale":{"range":["#bfbfbf"]},"legend":{"title":null,"symbolStrokeColor":"#777"}}}},
{"data":{"name":"fits"},"transform":[{"filter":"datum.p==='ORD2'"}],"mark":{"type":"line","interpolate":"monotone","strokeWidth":1},
"encoding":{"x":{"field":"x","type":"quantitative","title":null,"axis":{"values":[0,5,10,15,20,25,30,35],"labelOverlap":false}},"y":{"field":"y","type":"quantitative","title":"Relative Frequency","axis":{"values":[0,0.1,0.2,0.3],"format":".1f","labelOverlap":false}},"stroke":{"field":"c","type":"nominal","scale":{"domain":["fit","sum","c1","c2"],"range":["#c9404a","#3d4db7","#d8482e","#a3cd45"]},"legend":null}}},
{"data":{"values":[{"t":"Unscaled reference"}]},"mark":{"type":"text","fontSize":5.7,"align":"left","baseline":"middle","color":"#222"},"encoding":{"x":{"datum":17.5},"y":{"datum":0.32,"title":"Relative Frequency"},"text":{"field":"t"}}}]},
{"width":168,"height":74.5,"layer":[
{"data":{"name":"bars"},"transform":[{"filter":"datum.p==='ORD3'"}],"mark":{"type":"bar","stroke":"#7a7a7a","strokeWidth":0.6},
"encoding":{"x":{"field":"lo","type":"quantitative","bin":{"binned":true},"title":null,"scale":{"domain":[0,35],"nice":false,"zero":false},"axis":{"values":[0,5,10,15,20,25,30,35],"labelOverlap":false,"tickCount":8}},"x2":{"field":"hi"},"y":{"field":"f","type":"quantitative","title":null,"scale":{"domain":[0,0.35],"nice":false},"axis":{"values":[0,0.1,0.2,0.3],"format":".1f","labelOverlap":false,"tickCount":4}},"color":{"field":"p","type":"nominal","scale":{"range":["#bfbfbf"]},"legend":{"title":null,"symbolStrokeColor":"#777"}}}},
{"data":{"name":"fits"},"transform":[{"filter":"datum.p==='ORD3'"}],"mark":{"type":"line","interpolate":"monotone","strokeWidth":1},
"encoding":{"x":{"field":"x","type":"quantitative","title":null,"axis":{"values":[0,5,10,15,20,25,30,35],"labelOverlap":false}},"y":{"field":"y","type":"quantitative","title":null,"axis":{"values":[0,0.1,0.2,0.3],"format":".1f","labelOverlap":false}},"stroke":{"field":"c","type":"nominal","scale":{"domain":["fit","sum","c1","c2"],"range":["#c9404a","#3d4db7","#d8482e","#a3cd45"]},"legend":null}}},
{"data":{"values":[{"t":"Unscaled reference"}]},"mark":{"type":"text","fontSize":5.7,"align":"left","baseline":"middle","color":"#222"},"encoding":{"x":{"datum":15},"y":{"datum":0.317,"title":null},"text":{"field":"t"}}}]},
{"width":170,"height":74.5,"layer":[
{"data":{"name":"bars"},"transform":[{"filter":"datum.p==='OR3'"}],"mark":{"type":"bar","stroke":"#a08c7c","strokeWidth":0.6},
"encoding":{"x":{"field":"lo","type":"quantitative","bin":{"binned":true},"title":null,"scale":{"domain":[0,35],"nice":false,"zero":false},"axis":{"values":[0,5,10,15,20,25,30,35],"labelOverlap":false,"tickCount":8}},"x2":{"field":"hi"},"y":{"field":"f","type":"quantitative","title":"Relative Frequency","scale":{"domain":[0,0.35],"nice":false},"axis":{"values":[0,0.1,0.2,0.3],"format":".1f","labelOverlap":false,"tickCount":4}},"color":{"field":"p","type":"nominal","scale":{"range":["#f9c390"]},"legend":{"title":null}}}},
{"data":{"name":"fits"},"transform":[{"filter":"datum.p==='OR3'"}],"mark":{"type":"line","interpolate":"monotone","strokeWidth":1},
"encoding":{"x":{"field":"x","type":"quantitative","title":null,"axis":{"values":[0,5,10,15,20,25,30,35],"labelOverlap":false}},"y":{"field":"y","type":"quantitative","title":"Relative Frequency","axis":{"values":[0,0.1,0.2,0.3],"format":".1f","labelOverlap":false}},"stroke":{"field":"c","type":"nominal","scale":{"domain":["fit","sum","c1","c2"],"range":["#c9404a","#3d4db7","#d8482e","#a3cd45"]},"legend":null}}}]},
{"width":168,"height":74.5,"layer":[
{"data":{"name":"bars"},"transform":[{"filter":"datum.p==='OR22'"}],"mark":{"type":"bar","stroke":"#a08c7c","strokeWidth":0.6},
"encoding":{"x":{"field":"lo","type":"quantitative","bin":{"binned":true},"title":null,"scale":{"domain":[0,35],"nice":false,"zero":false},"axis":{"values":[0,5,10,15,20,25,30,35],"labelOverlap":false,"tickCount":8}},"x2":{"field":"hi"},"y":{"field":"f","type":"quantitative","title":null,"scale":{"domain":[0,0.35],"nice":false},"axis":{"values":[0,0.1,0.2,0.3],"format":".1f","labelOverlap":false,"tickCount":4}},"color":{"field":"p","type":"nominal","scale":{"range":["#f9c390"]},"legend":{"title":null}}}},
{"data":{"name":"fits"},"transform":[{"filter":"datum.p==='OR22'"}],"mark":{"type":"line","interpolate":"monotone","strokeWidth":1},
"encoding":{"x":{"field":"x","type":"quantitative","title":null,"axis":{"values":[0,5,10,15,20,25,30,35],"labelOverlap":false}},"y":{"field":"y","type":"quantitative","title":null,"axis":{"values":[0,0.1,0.2,0.3],"format":".1f","labelOverlap":false}},"stroke":{"field":"c","type":"nominal","scale":{"domain":["fit","sum","c1","c2"],"range":["#c9404a","#3d4db7","#d8482e","#a3cd45"]},"legend":null}}}]},
{"width":170,"height":74.5,"layer":[
{"data":{"name":"bars"},"transform":[{"filter":"datum.p==='OR18'"}],"mark":{"type":"bar","stroke":"#a08c7c","strokeWidth":0.6},
"encoding":{"x":{"field":"lo","type":"quantitative","bin":{"binned":true},"title":null,"scale":{"domain":[0,35],"nice":false,"zero":false},"axis":{"values":[0,5,10,15,20,25,30,35],"labelOverlap":false,"tickCount":8}},"x2":{"field":"hi"},"y":{"field":"f","type":"quantitative","title":"Relative Frequency","scale":{"domain":[0,0.35],"nice":false},"axis":{"values":[0,0.1,0.2,0.3],"format":".1f","labelOverlap":false,"tickCount":4}},"color":{"field":"p","type":"nominal","scale":{"range":["#f9c390"]},"legend":{"title":null}}}},
{"data":{"name":"fits"},"transform":[{"filter":"datum.p==='OR18'"}],"mark":{"type":"line","interpolate":"monotone","strokeWidth":1},
"encoding":{"x":{"field":"x","type":"quantitative","title":null,"axis":{"values":[0,5,10,15,20,25,30,35],"labelOverlap":false}},"y":{"field":"y","type":"quantitative","title":"Relative Frequency","axis":{"values":[0,0.1,0.2,0.3],"format":".1f","labelOverlap":false}},"stroke":{"field":"c","type":"nominal","scale":{"domain":["fit","sum","c1","c2"],"range":["#c9404a","#3d4db7","#d8482e","#a3cd45"]},"legend":null}}}]},
{"width":168,"height":74.5,"layer":[
{"data":{"name":"bars"},"transform":[{"filter":"datum.p==='OR19'"}],"mark":{"type":"bar","stroke":"#a08c7c","strokeWidth":0.6},
"encoding":{"x":{"field":"lo","type":"quantitative","bin":{"binned":true},"title":null,"scale":{"domain":[0,35],"nice":false,"zero":false},"axis":{"values":[0,5,10,15,20,25,30,35],"labelOverlap":false,"tickCount":8}},"x2":{"field":"hi"},"y":{"field":"f","type":"quantitative","title":null,"scale":{"domain":[0,0.35],"nice":false},"axis":{"values":[0,0.1,0.2,0.3],"format":".1f","labelOverlap":false,"tickCount":4}},"color":{"field":"p","type":"nominal","scale":{"range":["#f9c390"]},"legend":{"title":null}}}},
{"data":{"name":"fits"},"transform":[{"filter":"datum.p==='OR19'"}],"mark":{"type":"line","interpolate":"monotone","strokeWidth":1},
"encoding":{"x":{"field":"x","type":"quantitative","title":null,"axis":{"values":[0,5,10,15,20,25,30,35],"labelOverlap":false}},"y":{"field":"y","type":"quantitative","title":null,"axis":{"values":[0,0.1,0.2,0.3],"format":".1f","labelOverlap":false}},"stroke":{"field":"c","type":"nominal","scale":{"domain":["fit","sum","c1","c2"],"range":["#c9404a","#3d4db7","#d8482e","#a3cd45"]},"legend":null}}}]},
{"width":170,"height":74.5,"layer":[
{"data":{"name":"bars"},"transform":[{"filter":"datum.p==='OR12'"}],"mark":{"type":"bar","stroke":"#a08c7c","strokeWidth":0.6},
"encoding":{"x":{"field":"lo","type":"quantitative","bin":{"binned":true},"title":null,"scale":{"domain":[0,35],"nice":false,"zero":false},"axis":{"values":[0,5,10,15,20,25,30,35],"labelOverlap":false,"tickCount":8}},"x2":{"field":"hi"},"y":{"field":"f","type":"quantitative","title":"Relative Frequency","scale":{"domain":[0,0.35],"nice":false},"axis":{"values":[0,0.1,0.2,0.3],"format":".1f","labelOverlap":false,"tickCount":4}},"color":{"field":"p","type":"nominal","scale":{"range":["#f9c390"]},"legend":{"title":null}}}},
{"data":{"name":"fits"},"transform":[{"filter":"datum.p==='OR12'"}],"mark":{"type":"line","interpolate":"monotone","strokeWidth":1},
"encoding":{"x":{"field":"x","type":"quantitative","title":null,"axis":{"values":[0,5,10,15,20,25,30,35],"labelOverlap":false}},"y":{"field":"y","type":"quantitative","title":"Relative Frequency","axis":{"values":[0,0.1,0.2,0.3],"format":".1f","labelOverlap":false}},"stroke":{"field":"c","type":"nominal","scale":{"domain":["fit","sum","c1","c2"],"range":["#c9404a","#3d4db7","#d8482e","#a3cd45"]},"legend":null}}}]},
{"width":168,"height":74.5,"layer":[
{"data":{"name":"bars"},"transform":[{"filter":"datum.p==='OR13'"}],"mark":{"type":"bar","stroke":"#a08c7c","strokeWidth":0.6},
"encoding":{"x":{"field":"lo","type":"quantitative","bin":{"binned":true},"title":null,"scale":{"domain":[0,35],"nice":false,"zero":false},"axis":{"values":[0,5,10,15,20,25,30,35],"labelOverlap":false,"tickCount":8}},"x2":{"field":"hi"},"y":{"field":"f","type":"quantitative","title":null,"scale":{"domain":[0,0.35],"nice":false},"axis":{"values":[0,0.1,0.2,0.3],"format":".1f","labelOverlap":false,"tickCount":4}},"color":{"field":"p","type":"nominal","scale":{"range":["#f9c390"]},"legend":{"title":null}}}},
{"data":{"name":"fits"},"transform":[{"filter":"datum.p==='OR13'"}],"mark":{"type":"line","interpolate":"monotone","strokeWidth":1},
"encoding":{"x":{"field":"x","type":"quantitative","title":null,"axis":{"values":[0,5,10,15,20,25,30,35],"labelOverlap":false}},"y":{"field":"y","type":"quantitative","title":null,"axis":{"values":[0,0.1,0.2,0.3],"format":".1f","labelOverlap":false}},"stroke":{"field":"c","type":"nominal","scale":{"domain":["fit","sum","c1","c2"],"range":["#c9404a","#3d4db7","#d8482e","#a3cd45"]},"legend":null}}}]}
]}
]
}
